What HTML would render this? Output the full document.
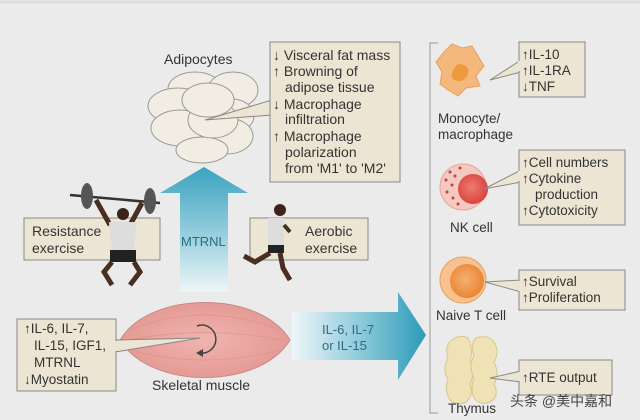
<!DOCTYPE html>
<html><head><meta charset="utf-8"><style>
html,body{margin:0;padding:0;background:#ebebeb;}
svg{display:block;}
text{font-family:"Liberation Sans","Noto Sans CJK SC",sans-serif;fill:#333;}
</style></head><body>
<svg width="640" height="420" viewBox="0 0 640 420" xmlns="http://www.w3.org/2000/svg">
<defs>
<linearGradient id="up" x1="0" y1="0" x2="0" y2="1">
<stop offset="0" stop-color="#3aa3bf"/><stop offset="0.5" stop-color="#8fcbdb"/><stop offset="1" stop-color="#eef6f8"/></linearGradient>
<linearGradient id="rt" x1="0" y1="0" x2="1" y2="0">
<stop offset="0" stop-color="#eef6f8"/><stop offset="0.5" stop-color="#8fcbdb"/><stop offset="1" stop-color="#2d9ab8"/></linearGradient>
<radialGradient id="mus" cx="0.5" cy="0.5" r="0.5">
<stop offset="0" stop-color="#f0b4ae"/><stop offset="1" stop-color="#e59a95"/></radialGradient>
<radialGradient id="tc" cx="0.45" cy="0.45" r="0.6"><stop offset="0" stop-color="#f6b070"/><stop offset="1" stop-color="#e8822f"/></radialGradient>
<radialGradient id="nk" cx="0.45" cy="0.45" r="0.6"><stop offset="0" stop-color="#ee7a70"/><stop offset="1" stop-color="#d8403c"/></radialGradient>
</defs>
<rect width="640" height="420" fill="#ebebeb"/>
<line x1="0" y1="2" x2="640" y2="2" stroke="#ddd" stroke-width="3"/>

<!-- Adipocytes -->
<text x="164" y="64" font-size="14">Adipocytes</text>
<g fill="#f1ede2" stroke="#999" stroke-width="1">
<ellipse cx="195" cy="89" rx="27" ry="17"/>
<ellipse cx="233" cy="90" rx="25" ry="18"/>
<ellipse cx="232" cy="116" rx="22" ry="17"/>
<ellipse cx="178" cy="106" rx="30" ry="18"/>
<ellipse cx="180" cy="128" rx="29" ry="18"/>
<ellipse cx="227" cy="136" rx="26" ry="18"/>
<ellipse cx="202" cy="150" rx="26" ry="13"/>
<ellipse cx="213" cy="120" rx="25" ry="18"/>
<ellipse cx="208" cy="100" rx="26" ry="17"/>
</g>
<polygon points="205,120 272,100 272,115" fill="#ede5d3" stroke="#888" stroke-width="1"/>
<rect x="270" y="42" width="130" height="140" fill="#ede5d3" stroke="#888"/>
<rect x="271" y="101" width="2" height="13" fill="#ede5d3"/>
<g font-size="14">
<text x="273" y="60">↓ Visceral fat mass</text>
<text x="273" y="76">↑ Browning of</text>
<text x="285" y="92">adipose tissue</text>
<text x="273" y="109">↓ Macrophage</text>
<text x="285" y="124">infiltration</text>
<text x="273" y="141">↑ Macrophage</text>
<text x="285" y="157">polarization</text>
<text x="285" y="173">from 'M1' to 'M2'</text>
</g>

<!-- up arrow -->
<polygon points="204,167 248,193 228,193 228,292 180,292 180,193 160,193" fill="url(#up)"/>
<text x="181" y="246" font-size="13" style="fill:#2a6f85">MTRNL</text>

<!-- exercise boxes -->
<rect x="24" y="218" width="136" height="42" fill="#ede5d3" stroke="#888"/>
<text x="32" y="236" font-size="14">Resistance</text>
<text x="32" y="253" font-size="14">exercise</text>
<rect x="250" y="218" width="118" height="42" fill="#ede5d3" stroke="#888"/>
<text x="305" y="236" font-size="14">Aerobic</text>
<text x="305" y="253" font-size="14">exercise</text>

<!-- weightlifter -->
<line x1="70" y1="195" x2="160" y2="203" stroke="#333" stroke-width="2.5"/>
<ellipse cx="87" cy="196" rx="6" ry="13" fill="#555"/>
<ellipse cx="150" cy="201" rx="6" ry="13" fill="#555"/>
<path d="M96 200 L110 225 M142 203 L130 225" stroke="#4a2e20" stroke-width="5" fill="none"/>
<circle cx="123" cy="214" r="6" fill="#3b2418"/>
<path d="M109 222 L137 222 L134 250 L112 250 Z" fill="#ddd"/>
<path d="M110 250 L136 250 L136 262 L110 262 Z" fill="#222"/>
<path d="M112 262 L104 272 L112 285 M134 262 L140 272 L130 285" stroke="#4a2e20" stroke-width="5" fill="none"/>
<!-- runner -->
<circle cx="280" cy="210" r="6" fill="#3b2418"/>
<path d="M268 218 L284 218 L284 245 L268 245 Z" fill="#ddd"/>
<path d="M268 245 L284 245 L284 253 L268 253 Z" fill="#222"/>
<path d="M270 253 L255 262 L244 256 M280 253 L283 268 L290 280" stroke="#4a2e20" stroke-width="5" fill="none"/>
<path d="M284 225 L290 232" stroke="#4a2e20" stroke-width="4"/>

<!-- muscle -->
<path d="M120 340 C150 290, 260 290, 290 340 C260 390, 150 390, 120 340 Z" fill="url(#mus)" stroke="#c98a86"/>
<g stroke="#d88d88" stroke-width="0.7" opacity="0.7">
<path d="M130 330 Q205 300 280 330" fill="none"/><path d="M128 340 Q205 325 282 340" fill="none"/><path d="M130 350 Q205 370 280 350" fill="none"/>
</g>
<path d="M197 326 A14 14 0 1 1 200 353" stroke="#444" stroke-width="1.5" fill="none"/>
<polygon points="196,353 203,349 203,357" fill="#444"/>
<polygon points="200,338 115,340 115,352" fill="#ede5d3" stroke="#888"/>
<rect x="17" y="319" width="99" height="72" fill="#ede5d3" stroke="#888"/>
<rect x="114" y="341" width="3" height="10" fill="#ede5d3"/>
<g font-size="13.5">
<text x="24" y="333">↑IL-6,   IL-7,</text>
<text x="34" y="350">IL-15, IGF1,</text>
<text x="34" y="367">MTRNL</text>
<text x="24" y="384">↓Myostatin</text>
</g>
<text x="152" y="390" font-size="14">Skeletal muscle</text>

<!-- right arrow -->
<polygon points="292,312 398,312 398,292 426,335 398,380 398,360 292,360" fill="url(#rt)"/>
<text x="322" y="334" font-size="13" style="fill:#2a6f85">IL-6, IL-7</text>
<text x="322" y="350" font-size="13" style="fill:#2a6f85">or IL-15</text>

<!-- bracket -->
<path d="M438 43 L430 43 L430 413 L438 413" stroke="#999" fill="none"/>

<!-- monocyte -->
<path d="M444 52 L452 44 L462 48 L472 46 L478 56 L484 66 L476 76 L480 86 L466 88 L458 96 L448 90 L440 84 L442 72 L436 62 Z" fill="#f4b77c" stroke="#e5a060"/>
<path d="M458 64 Q470 64 468 74 Q464 84 454 80 Q448 74 458 64 Z" fill="#eb9a40"/>
<polygon points="490,80 521,60 521,72" fill="#ede5d3" stroke="#888"/>
<rect x="519" y="42" width="66" height="55" fill="#ede5d3" stroke="#888"/>
<rect x="518" y="61" width="3" height="10" fill="#ede5d3"/>
<g font-size="13.5"><text x="522" y="59">↑IL-10</text><text x="522" y="75">↑IL-1RA</text><text x="522" y="91">↓TNF</text></g>
<text x="438" y="123" font-size="13.5">Monocyte/</text>
<text x="438" y="139" font-size="13.5">macrophage</text>

<!-- NK -->
<circle cx="463" cy="187" r="23" fill="#f4c9c2" stroke="#e8a29a"/>
<circle cx="473" cy="189" r="15" fill="url(#nk)"/>
<g fill="#c84040"><circle cx="450" cy="172" r="1.5"/><circle cx="446" cy="180" r="1.5"/><circle cx="452" cy="185" r="1.5"/><circle cx="447" cy="192" r="1.5"/><circle cx="453" cy="198" r="1.5"/><circle cx="458" cy="204" r="1.5"/><circle cx="455" cy="176" r="1.5"/><circle cx="460" cy="168" r="1.5"/></g>
<polygon points="484,189 521,170 521,182" fill="#ede5d3" stroke="#888"/>
<rect x="519" y="150" width="106" height="75" fill="#ede5d3" stroke="#888"/>
<rect x="518" y="171" width="3" height="10" fill="#ede5d3"/>
<g font-size="13.5"><text x="522" y="167">↑Cell numbers</text><text x="522" y="183">↑Cytokine</text><text x="535" y="199">production</text><text x="522" y="215">↑Cytotoxicity</text></g>
<text x="450" y="232" font-size="13.5">NK cell</text>

<!-- Naive T -->
<circle cx="463" cy="280" r="23" fill="#f7c28f" stroke="#e8a060"/>
<circle cx="467" cy="281" r="17" fill="url(#tc)"/>
<polygon points="485,282 521,280 521,292" fill="#ede5d3" stroke="#888"/>
<rect x="519" y="270" width="106" height="40" fill="#ede5d3" stroke="#888"/>
<rect x="518" y="281" width="3" height="10" fill="#ede5d3"/>
<g font-size="13.5"><text x="522" y="286">↑Survival</text><text x="522" y="302">↑Proliferation</text></g>
<text x="436" y="320" font-size="13.5">Naive T cell</text>

<!-- Thymus -->
<path d="M452 340 Q460 334 468 338 Q474 350 470 360 Q476 372 470 384 Q474 396 466 402 Q456 406 450 400 Q444 390 448 380 Q442 368 448 358 Q444 346 452 340 Z" fill="#efe2b5" stroke="#d6c58f"/>
<path d="M476 338 Q488 334 494 342 Q500 352 494 362 Q500 374 494 384 Q500 396 490 402 Q480 406 474 398 Q470 388 474 378 Q468 366 474 356 Q470 344 476 338 Z" fill="#efe2b5" stroke="#d6c58f"/>
<polygon points="490,378 521,371 521,382" fill="#ede5d3" stroke="#888"/>
<rect x="519" y="360" width="93" height="35" fill="#ede5d3" stroke="#888"/>
<rect x="518" y="372" width="3" height="9" fill="#ede5d3"/>
<text x="522" y="382" font-size="13.5">↑RTE output</text>
<text x="448" y="413" font-size="13.5">Thymus</text>

<text x="510" y="406" font-size="14" style="fill:#444">头条 @美中嘉和</text>
</svg>
</body></html>
